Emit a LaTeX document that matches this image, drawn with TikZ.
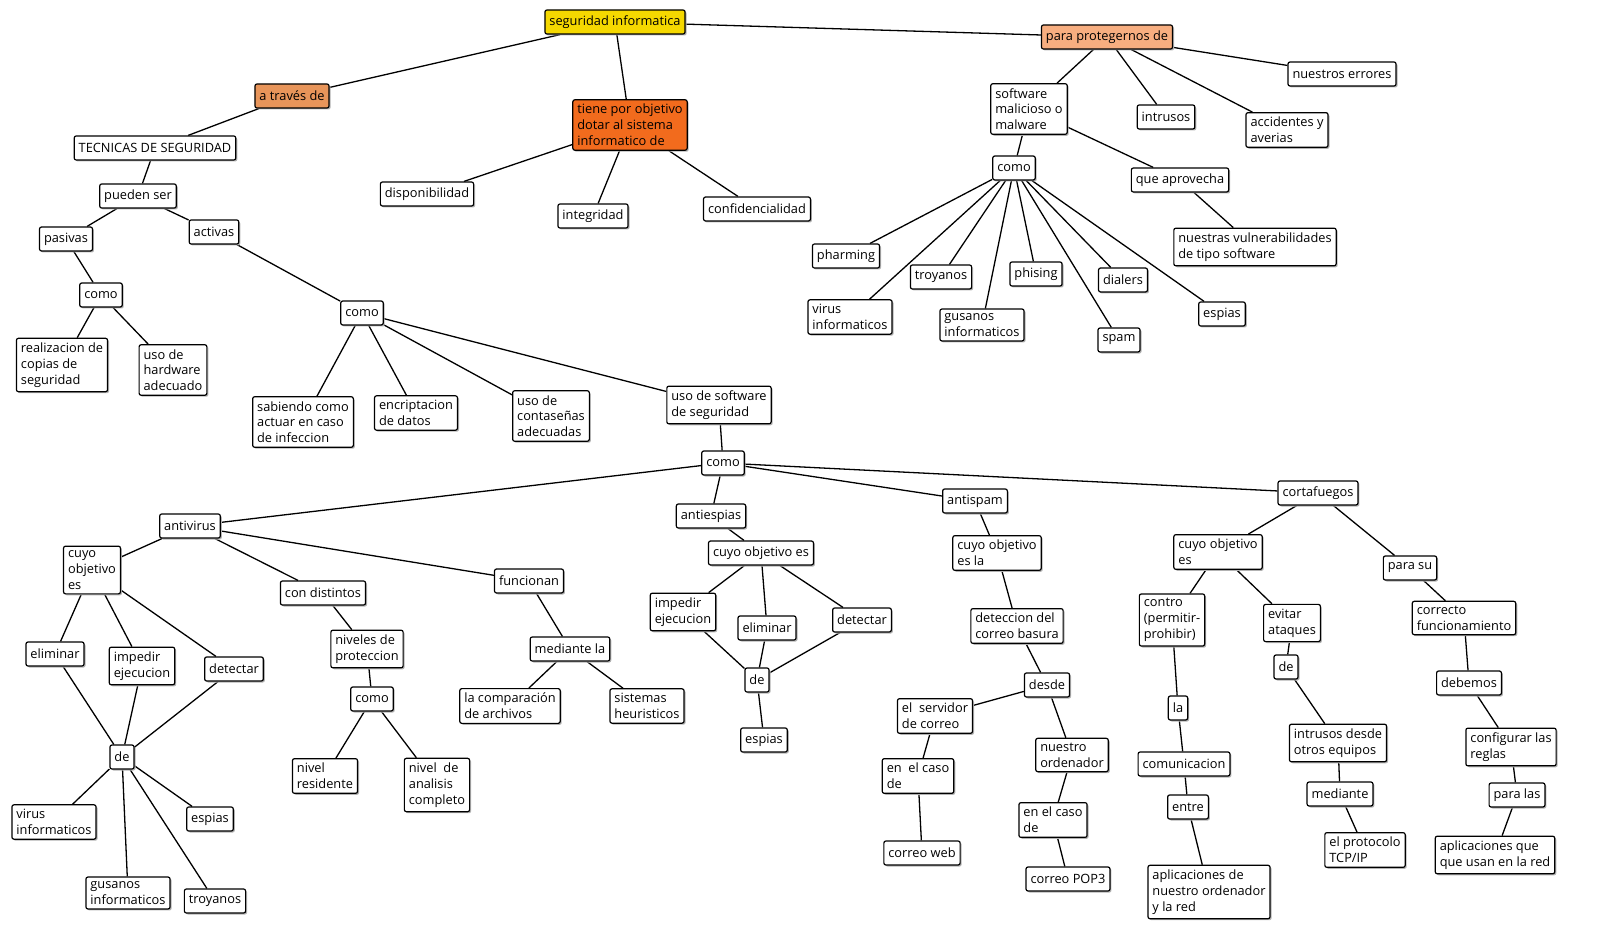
\documentclass[tikz,border=0pt]{standalone}
\usepackage{fontspec}
\setmainfont{Open Sans}
\usetikzlibrary{backgrounds,shadows}
\definecolor{cY}{HTML}{F5D800}
\definecolor{cP}{HTML}{F7AE80}
\definecolor{cA}{HTML}{E8955A}
\definecolor{cO}{HTML}{F26B1D}
\begin{document}
\begin{tikzpicture}[x=1pt,y=-1pt,
  n/.style={draw,line width=1.2pt,rounded corners=2pt,fill=white,align=left,inner xsep=4.5pt,inner ysep=4.5pt,
    minimum height=24pt,
    font=\fontsize{12.8}{15.8}\selectfont,drop shadow={shadow xshift=1.5pt,shadow yshift=-1.5pt,fill=gray!60,opacity=1}},
  e/.style={line width=1.3pt}]
\useasboundingbox (0,0) rectangle (1600,949);
\node[n,fill=cY] (sig) at (615,22) {seguridad informatica};
\node[n,fill=cP] (prot) at (1107,37) {para protegernos de};
\node[n,fill=cA] (atr) at (292,96) {a través de};
\node[n,fill=cO] (obj) at (630,125) {tiene por objetivo\\dotar al sistema\\informatico de};
\node[n] (tec) at (155,148) {TECNICAS DE SEGURIDAD};
\node[n] (pueden) at (138,196) {pueden ser};
\node[n] (pasivas) at (66,239) {pasivas};
\node[n] (activas) at (214,232) {activas};
\node[n] (como1) at (101,295) {como};
\node[n] (realiz) at (62,365) {realizacion de\\copias de\\seguridad};
\node[n] (usohw) at (173,370) {uso de\\hardware\\adecuado};
\node[n] (como2) at (362,313) {como};
\node[n] (sabiendo) at (303,422) {sabiendo como\\actuar en caso\\de infeccion};
\node[n] (encrip) at (416,413) {encriptacion\\de datos};
\node[n] (contas) at (551,416) {uso de\\contaseñas\\adecuadas};
\node[n] (usosw) at (719,405) {uso de software\\de seguridad};
\node[n] (disp) at (427,194) {disponibilidad};
\node[n] (integ) at (593,216) {integridad};
\node[n] (conf) at (757,209) {confidencialidad};
\node[n] (soft) at (1029,109) {software\\malicioso o\\malware};
\node[n] (intrusos) at (1166,117) {intrusos};
\node[n] (accid) at (1287,130) {accidentes y\\averias};
\node[n] (errores) at (1342,74) {nuestros errores};
\node[n] (comoM) at (1014,168) {como};
\node[n] (queap) at (1180,180) {que aprovecha};
\node[n] (vuln) at (1255,247) {nuestras vulnerabilidades\\de tipo software};
\node[n] (pharming) at (846,256) {pharming};
\node[n] (virus1) at (850,317) {virus\\informaticos};
\node[n] (troyanos1) at (941,277) {troyanos};
\node[n] (gusanos1) at (982,325) {gusanos\\informaticos};
\node[n] (phising) at (1036,274) {phising};
\node[n] (spam) at (1119,340) {spam};
\node[n] (dialers) at (1123,280) {dialers};
\node[n] (espias1) at (1222,314) {espias};
\node[n] (comoS) at (723,463) {como};
\node[n] (antivirus) at (190,526) {antivirus};
\node[n] (antiesp) at (711,516) {antiespias};
\node[n] (antispam) at (975,501) {antispam};
\node[n] (corta) at (1318,493) {cortafuegos};
\node[n] (cuyoA) at (92,570) {cuyo\\objetivo\\es};
\node[n] (condist) at (323,593) {con distintos};
\node[n] (funcionan) at (529,581) {funcionan};
\node[n] (elim1) at (55,654) {eliminar};
\node[n] (impedir1) at (142,666) {impedir\\ejecucion};
\node[n] (detectar1) at (234,669) {detectar};
\node[n] (de1) at (122,757) {de};
\node[n] (virus2) at (54,822) {virus\\informaticos};
\node[n] (espias2) at (210,819) {espias};
\node[n] (gusanos2) at (128,893) {gusanos\\informaticos};
\node[n] (troyanos2) at (215,901) {troyanos};
\node[n] (niveles) at (367,649) {niveles de\\proteccion};
\node[n] (como3) at (372,699) {como};
\node[n] (nivres) at (325,776) {nivel\\residente};
\node[n] (nivan) at (437,785) {nivel\ \ de\\analisis\\completo};
\node[n] (mediante) at (570,649) {mediante la};
\node[n] (compar) at (510,706) {la comparación\\de archivos};
\node[n] (sist) at (647,706) {sistemas\\heuristicos};
\node[n] (cuyoE) at (761,553) {cuyo objetivo es};
\node[n] (impedir2) at (683,612) {impedir\\ejecucion};
\node[n] (elim2) at (767,628) {eliminar};
\node[n] (detectar2) at (862,620) {detectar};
\node[n] (de2) at (757,680) {de};
\node[n] (espias3) at (764,740) {espias};
\node[n] (cuyoS) at (997,553) {cuyo objetivo\\es la};
\node[n] (detec) at (1017,626) {deteccion del\\correo basura};
\node[n] (desde) at (1047,685) {desde};
\node[n] (servidor) at (935,716) {el\ \ servidor\\de correo};
\node[n] (nuestro) at (1072,755) {nuestro\\ordenador};
\node[n] (encaso1) at (918,776) {en\ \ el caso\\de};
\node[n] (encaso2) at (1053,820) {en el caso\\de};
\node[n] (correoweb) at (922,853) {correo web};
\node[n] (pop3) at (1068,879) {correo POP3};
\node[n] (cuyoC) at (1218,552) {cuyo objetivo\\es};
\node[n] (parasu) at (1410,568) {para su};
\node[n] (contro) at (1172,620) {contro\\(permitir-\\prohibir)};
\node[n] (evitar) at (1292,623) {evitar\\ataques};
\node[n] (correcto) at (1464,618) {correcto\\funcionamiento};
\node[n] (la) at (1178,708) {la};
\node[n] (deC) at (1286,667) {de};
\node[n] (debemos) at (1469,683) {debemos};
\node[n] (comunic) at (1184,764) {comunicacion};
\node[n] (intrusos2) at (1338,743) {intrusos desde\\otros equipos};
\node[n] (configurar) at (1511,747) {configurar las\\reglas};
\node[n] (entre) at (1188,807) {entre};
\node[n] (mediante2) at (1340,794) {mediante};
\node[n] (paralas) at (1517,795) {para las};
\node[n] (aplic) at (1209,892) {aplicaciones de\\nuestro ordenador\\y la red};
\node[n] (protocolo) at (1365,850) {el protocolo\\TCP/IP};
\node[n] (aplic2) at (1495,855) {aplicaciones que\\que usan en la red};
\begin{scope}[on background layer]
\foreach \a/\b in {sig/atr,sig/obj,sig/prot,atr/tec,tec/pueden,pueden/pasivas,pueden/activas,
 pasivas/como1,como1/realiz,como1/usohw,activas/como2,como2/sabiendo,como2/encrip,como2/contas,como2/usosw,
 obj/disp,obj/integ,obj/conf,prot/soft,prot/intrusos,prot/accid,prot/errores,soft/comoM,soft/queap,queap/vuln,
 comoM/pharming,comoM/virus1,comoM/troyanos1,comoM/gusanos1,comoM/phising,comoM/spam,comoM/dialers,comoM/espias1,
 usosw/comoS,comoS/antivirus,comoS/antiesp,comoS/antispam,comoS/corta,antivirus/cuyoA,antivirus/condist,antivirus/funcionan,
 cuyoA/elim1,cuyoA/impedir1,cuyoA/detectar1,elim1/de1,impedir1/de1,detectar1/de1,de1/virus2,de1/espias2,de1/gusanos2,de1/troyanos2,
 condist/niveles,niveles/como3,como3/nivres,como3/nivan,funcionan/mediante,mediante/compar,mediante/sist,
 antiesp/cuyoE,cuyoE/impedir2,cuyoE/elim2,cuyoE/detectar2,impedir2/de2,elim2/de2,detectar2/de2,de2/espias3,
 antispam/cuyoS,cuyoS/detec,detec/desde,desde/servidor,desde/nuestro,servidor/encaso1,encaso1/correoweb,nuestro/encaso2,encaso2/pop3,
 corta/cuyoC,corta/parasu,cuyoC/contro,cuyoC/evitar,contro/la,la/comunic,comunic/entre,entre/aplic,evitar/deC,deC/intrusos2,
 intrusos2/mediante2,mediante2/protocolo,parasu/correcto,correcto/debemos,debemos/configurar,configurar/paralas,paralas/aplic2}
 \draw[e] (\a) -- (\b);
\end{scope}
\end{tikzpicture}
\end{document}
